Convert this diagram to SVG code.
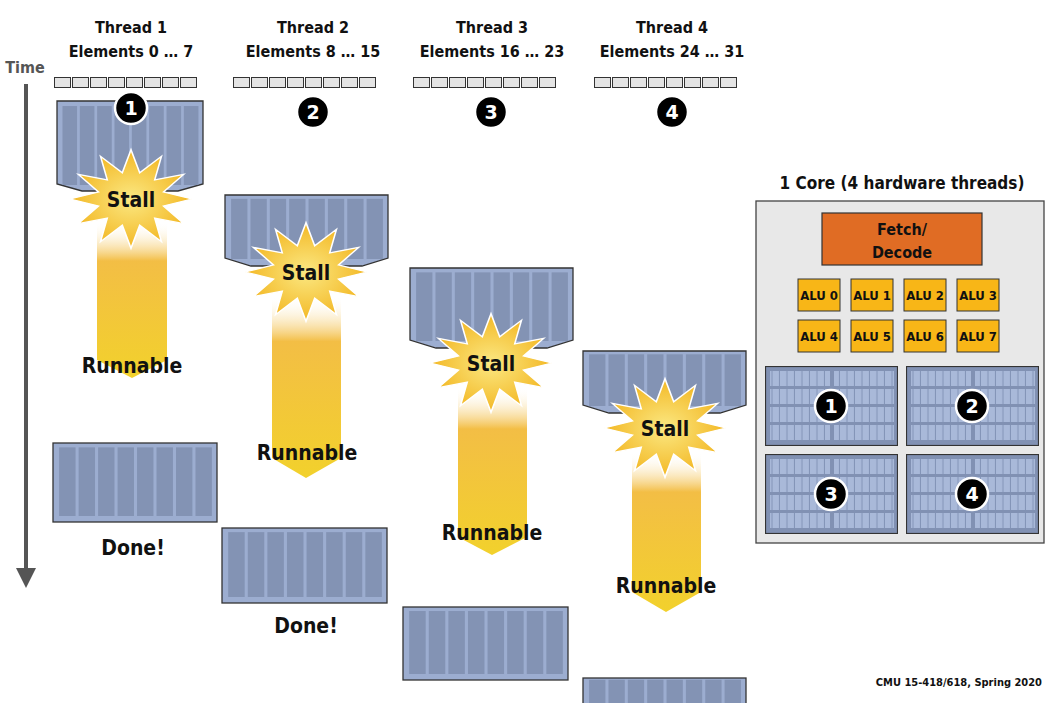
<svg xmlns="http://www.w3.org/2000/svg" xmlns:xlink="http://www.w3.org/1999/xlink" width="1049" height="703" viewBox="0 0 1049 703">
<style>
text{font-family:"DejaVu Sans Condensed","Liberation Sans",sans-serif;font-weight:bold;fill:#111;text-anchor:middle}
.hdr{font-size:16px}
.big{font-size:21px}
.blk{fill:#9cadd0;stroke:#333;stroke-width:1.3}
.eb{fill:#e4e4e4;stroke:#333;stroke-width:1}
.num{fill:#000;stroke:#fff;stroke-width:2.5}
.numt{fill:#fff;font-size:19px;font-family:"DejaVu Sans","Liberation Sans",sans-serif}
.alu{fill:#f8b617;stroke:#333;stroke-width:1}
.alut{font-size:13px}
.star{fill:url(#sg);stroke:#fff;stroke-width:1.5}
.arr{fill:url(#ag)}
</style>
<defs>
<linearGradient id="ag" x1="0" y1="0" x2="0" y2="1">
<stop offset="0" stop-color="#fff" stop-opacity="0"/>
<stop offset="0.25" stop-color="#f3be45"/>
<stop offset="1" stop-color="#f2d12c"/>
</linearGradient>
<radialGradient id="sg"><stop offset="0" stop-color="#fbe882"/><stop offset="1" stop-color="#f3b825"/></radialGradient>
<pattern id="cp" width="7.5" height="20" patternUnits="userSpaceOnUse"><rect width="7.5" height="20" fill="#a9b9d9"/><rect x="6.5" width="1" height="20" fill="#8394b7"/></pattern>
<symbol id="stripes" viewBox="0 0 160 100" preserveAspectRatio="none">
<g fill="#8393b4"><rect x="6" y="6" width="16" height="94"/><rect x="25" y="6" width="16" height="94"/><rect x="44" y="6" width="16" height="94"/><rect x="63" y="6" width="16" height="94"/><rect x="82" y="6" width="16" height="94"/><rect x="101" y="6" width="16" height="94"/><rect x="120" y="6" width="16" height="94"/><rect x="139" y="6" width="16" height="94"/></g>
</symbol>
<symbol id="rf" viewBox="0 0 133 80">
<rect x="0.5" y="0.5" width="132" height="79" fill="#8191b3" stroke="#333" stroke-width="1.2"/>
<g fill="url(#cp)"><rect x="5" y="5" width="60" height="15"/><rect x="69" y="5" width="60" height="15"/><rect x="5" y="23" width="60" height="15"/><rect x="69" y="23" width="60" height="15"/><rect x="5" y="41" width="60" height="15"/><rect x="69" y="41" width="60" height="15"/><rect x="5" y="59" width="60" height="15"/><rect x="69" y="59" width="60" height="15"/></g>
</symbol>
<symbol id="ebox" viewBox="0 0 146 11"><g class="eb"><rect x="0.5" y="0.5" width="16" height="10"/><rect x="18.5" y="0.5" width="16" height="10"/><rect x="36.5" y="0.5" width="16" height="10"/><rect x="54.5" y="0.5" width="16" height="10"/><rect x="72.5" y="0.5" width="16" height="10"/><rect x="90.5" y="0.5" width="16" height="10"/><rect x="108.5" y="0.5" width="16" height="10"/><rect x="126.5" y="0.5" width="16" height="10"/></g></symbol>
<polygon id="starp" points="58,0 30.9,8.3 50.2,29 22.6,22.6 29,50.2 8.3,30.9 0,58 -8.3,30.9 -29,50.2 -22.6,22.6 -50.2,29 -30.9,8.3 -58,0 -30.9,-8.3 -50.2,-29 -22.6,-22.6 -29,-50.2 -8.3,-30.9 0,-58 8.3,-30.9 29,-50.2 22.6,-22.6 50.2,-29 30.9,-8.3"/>
<marker id="ta" markerWidth="5" markerHeight="5" refX="1" refY="2.5" orient="auto" markerUnits="strokeWidth"><path d="M0,0 L5,2.5 L0,5 z" fill="#555"/></marker>
</defs>
<rect width="1049" height="703" fill="#fff"/>

<g id="time">
<text x="25" y="73" class="hdr" style="fill:#555">Time</text>
<line x1="26" y1="84" x2="26" y2="572" stroke="#555" stroke-width="4" marker-end="url(#ta)"/>
</g>

<g id="headers">
<text x="131" y="33" class="hdr">Thread 1</text><text x="131" y="57" class="hdr">Elements 0 … 7</text>
<text x="313" y="33" class="hdr">Thread 2</text><text x="313" y="57" class="hdr">Elements 8 … 15</text>
<text x="492" y="33" class="hdr">Thread 3</text><text x="492" y="57" class="hdr">Elements 16 … 23</text>
<text x="672" y="33" class="hdr">Thread 4</text><text x="672" y="57" class="hdr">Elements 24 … 31</text>
<use href="#ebox" x="54" y="77" width="146" height="11"/>
<use href="#ebox" x="233" y="77" width="146" height="11"/>
<use href="#ebox" x="413" y="77" width="146" height="11"/>
<use href="#ebox" x="594" y="77" width="146" height="11"/>
</g>

<g id="thread1">
<polygon class="blk" points="57,101 203,101 203,184 178,191 82,191 57,184"/>
<use href="#stripes" x="57" y="101" width="146" height="84"/>
<polygon class="arr" points="97,222 167,222 167,360 132,378 97,360"/>
<use href="#starp" class="star" transform="translate(131,199) scale(1.05,0.85)"/>
<text x="131" y="207" class="big">Stall</text>
<text x="132" y="373" class="big">Runnable</text>
<circle class="num" cx="131" cy="108" r="16"/><text x="131" y="115" class="numt">1</text>
</g>

<g id="thread2">
<polygon class="blk" points="225,195 388,195 388,258 362,266 251,266 225,258"/>
<use href="#stripes" x="225" y="195" width="163" height="64"/>
<polygon class="arr" points="272,296 341,296 341,458 306,478 272,458"/>
<use href="#starp" class="star" transform="translate(306,272) scale(1.05,0.85)"/>
<text x="306" y="280" class="big">Stall</text>
<text x="307" y="460" class="big">Runnable</text>
<circle class="num" cx="313" cy="112" r="16"/><text x="313" y="119" class="numt">2</text>
</g>

<g id="thread3">
<polygon class="blk" points="410,268 573,268 573,340 547,348 436,348 410,340"/>
<use href="#stripes" x="410" y="268" width="163" height="73"/>
<polygon class="arr" points="458,387 527,387 527,537 492,555 458,537"/>
<use href="#starp" class="star" transform="translate(491,363) scale(1.05,0.85)"/>
<text x="491" y="371" class="big">Stall</text>
<text x="492" y="540" class="big">Runnable</text>
<circle class="num" cx="491" cy="112" r="16"/><text x="491" y="119" class="numt">3</text>
</g>

<g id="thread4">
<polygon class="blk" points="583,351 746,351 746,405 720,413 609,413 583,405"/>
<use href="#stripes" x="583" y="351" width="163" height="55"/>
<polygon class="arr" points="632,452 701,452 701,592 666,612 632,592"/>
<use href="#starp" class="star" transform="translate(665,428) scale(1.05,0.85)"/>
<text x="665" y="436" class="big">Stall</text>
<text x="666" y="593" class="big">Runnable</text>
<circle class="num" cx="672" cy="112" r="16"/><text x="672" y="119" class="numt">4</text>
</g>

<g id="done">
<rect class="blk" x="53" y="443" width="164" height="79"/><use href="#stripes" x="53" y="443" width="164" height="73"/>
<text x="133" y="555" class="big">Done!</text>
<rect class="blk" x="222" y="528" width="165" height="75"/><use href="#stripes" x="222" y="528" width="165" height="69"/>
<text x="306" y="633" class="big">Done!</text>
<rect class="blk" x="403" y="607" width="165" height="73"/><use href="#stripes" x="403" y="607" width="165" height="67"/>
<rect class="blk" x="583" y="678" width="163" height="30"/><use href="#stripes" x="583" y="678" width="163" height="30"/>
</g>

<g id="core">
<text x="902" y="189" class="hdr" style="font-size:17px">1 Core (4 hardware threads)</text>
<rect x="756" y="201" width="288" height="342" fill="#e8e8e8" stroke="#444" stroke-width="1.3"/>
<rect x="822" y="213" width="160" height="52" fill="#e06c24" stroke="#333" stroke-width="1.2"/>
<text x="902" y="235" class="hdr">Fetch/</text><text x="902" y="258" class="hdr">Decode</text>
<g class="alu">
<rect x="798" y="279" width="42" height="32"/><rect x="851" y="279" width="42" height="32"/><rect x="904" y="279" width="42" height="32"/><rect x="957" y="279" width="42" height="32"/>
<rect x="798" y="320" width="42" height="32"/><rect x="851" y="320" width="42" height="32"/><rect x="904" y="320" width="42" height="32"/><rect x="957" y="320" width="42" height="32"/>
</g>
<g class="alut">
<text x="819" y="300">ALU 0</text><text x="872" y="300">ALU 1</text><text x="925" y="300">ALU 2</text><text x="978" y="300">ALU 3</text>
<text x="819" y="341">ALU 4</text><text x="872" y="341">ALU 5</text><text x="925" y="341">ALU 6</text><text x="978" y="341">ALU 7</text>
</g>
<use href="#rf" x="765" y="366" width="133" height="80"/>
<use href="#rf" x="906" y="366" width="133" height="80"/>
<use href="#rf" x="765" y="454" width="133" height="80"/>
<use href="#rf" x="906" y="454" width="133" height="80"/>
<circle class="num" cx="831" cy="406" r="16"/><text x="831" y="413" class="numt">1</text>
<circle class="num" cx="972" cy="406" r="16"/><text x="972" y="413" class="numt">2</text>
<circle class="num" cx="831" cy="494" r="16"/><text x="831" y="501" class="numt">3</text>
<circle class="num" cx="972" cy="494" r="16"/><text x="972" y="501" class="numt">4</text>
</g>

<text x="1042" y="686" style="font-size:11px;text-anchor:end">CMU 15-418/618, Spring 2020</text>
</svg>
